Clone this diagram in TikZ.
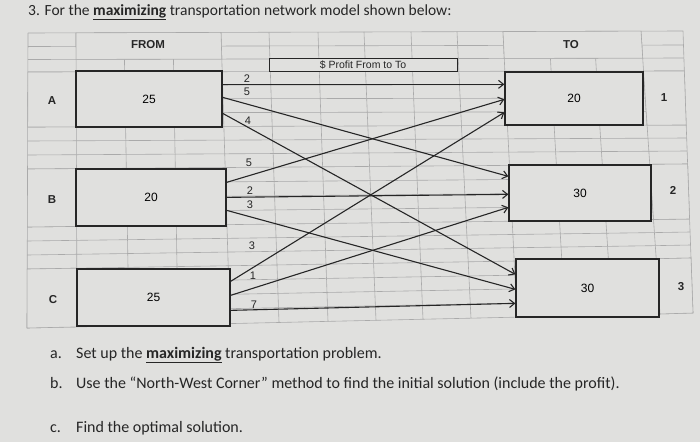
\documentclass[tikz,border=0pt]{standalone}
\usepackage{fontspec}
\setmainfont{Liberation Sans}
\newfontfamily\calibri{Carlito}
\usetikzlibrary{arrows.meta,calc}
\definecolor{bg}{RGB}{224,224,222}
\definecolor{gridc}{RGB}{170,170,170}
\definecolor{ink}{RGB}{38,38,38}
\def\colT{{28,76,124,173,221,269,318,364,411,457,503,549,594,641,683}}
\def\colB{{27,77,129,178,230,279,328,376,423,471,517,565,612,660,693}}
\def\rowL{{33,46.5,59.5,72,85.5,99,113,127,141,155,169,183.5,198,212.5,227,241,255,269,283.5,298,312.5,328}}
\def\rowR{{31,45,58,71,84.5,98,111.5,125,138,151,164,178,192,205.5,219,232,245,258,272,285.5,299.5,313}}
\newcommand\gpt[2]{%
  \pgfmathsetmacro\gx{\colT[#1]+(\colB[#1]-\colT[#1])*(\rowL[#2]-33)/295}%
  \pgfmathsetmacro\gy{\rowL[#2]+(\rowR[#2]-\rowL[#2])*(\colT[#1]-28)/655}}
\newcommand\mergecell[4]{%
  \gpt{#1}{#2}\let\qax\gx\let\qay\gy
  \gpt{#3}{#2}\let\qbx\gx\let\qby\gy
  \gpt{#3}{#4}\let\qcx\gx\let\qcy\gy
  \gpt{#1}{#4}\let\qdx\gx\let\qdy\gy
  \filldraw[gridline,fill=bg] (\qax,\qay) -- (\qbx,\qby) -- (\qcx,\qcy) -- (\qdx,\qdy) -- cycle;}
\begin{document}
\begin{tikzpicture}[x=1pt,y=-1pt,
  gridline/.style={draw=gridc,line width=0.6pt},
  box/.style={draw=ink,line width=1.3pt,fill=bg,inner sep=0pt,font=\fontsize{12}{12}\selectfont},
  hdr/.style={font=\bfseries\fontsize{11.5}{11.5}\selectfont,text=ink,inner sep=0pt},
  lbl/.style={font=\fontsize{11}{11}\selectfont,text=ink,inner sep=0pt},
  conn/.style={draw=ink,line width=1.1pt,-{Straight Barb[length=5pt,width=8pt]}},
  qtext/.style={anchor=base west,inner sep=0pt,text=ink,font=\calibri\fontsize{16}{16}\selectfont}]
\useasboundingbox (0,0) rectangle (700,442);
\fill[bg] (0,0) rectangle (700,442);
% grid
\foreach \j in {0,...,21}{
  \foreach \i [evaluate=\i as \k using int(\i+1)] in {0,...,13}{
    \gpt{\i}{\j}\let\xa\gx\let\ya\gy
    \gpt{\k}{\j}
    \draw[gridline] (\xa,\ya) -- (\gx,\gy);
  }}
\foreach \i in {0,...,14}{
  \foreach \j [evaluate=\j as \k using int(\j+1)] in {0,...,20}{
    \gpt{\i}{\j}\let\xa\gx\let\ya\gy
    \gpt{\i}{\k}
    \draw[gridline] (\xa,\ya) -- (\gx,\gy);
  }}
\mergecell{1}{0}{4}{2}
\mergecell{10}{0}{13}{2}
\mergecell{0}{3}{1}{7}
\mergecell{0}{10}{1}{14}
\mergecell{0}{17}{1}{21}
\mergecell{13}{3}{14}{7}
\mergecell{13}{10}{14}{14}
\mergecell{13}{17}{14}{21}
% headers and labels
\node[hdr] (from) at (148,45) {FROM};
\node[hdr] (to) at (571,45) {TO};
\node[hdr] (la) at (52,101) {A};
\node[hdr] (lb) at (52,200) {B};
\node[hdr] (lc) at (53,300) {C};
\node[hdr] (l1) at (664,98) {1};
\node[hdr] (l2) at (673,190) {2};
\node[hdr] (l3) at (681,287) {3};
% boxes
\node[box,minimum width=146pt,minimum height=56pt] (A) at (149,99) {25};
\node[box,minimum width=150pt,minimum height=57pt] (B) at (151,197.5) {20};
\node[box,minimum width=153pt,minimum height=57pt] (C) at (153.5,297.5) {25};
\node[box,minimum width=138pt,minimum height=53pt] (T1) at (574,98.5) {20};
\node[box,minimum width=142pt,minimum height=56pt] (T2) at (580,193) {30};
\node[box,minimum width=143pt,minimum height=58pt] (T3) at (587.5,288) {30};
\node[draw=ink,line width=0.9pt,fill=bg,minimum width=188pt,minimum height=13pt,inner sep=0pt,
  font=\fontsize{10.5}{10.5}\selectfont,text=ink] (P) at (363,64.5) {\$ Profit From to To};
% connectors
\draw[conn] ($(A.north east)+(0,14)$) -- ($(T1.north west)+(0,13)$);
\draw[conn] ($(A.north east)+(0,27)$) -- ($(T2.north west)+(0,12)$);
\draw[conn] ($(A.north east)+(0,43)$) -- ($(T3.north west)+(0,16)$);
\draw[conn] ($(B.north east)+(0,14)$) -- ($(T1.north west)+(0,28)$);
\draw[conn] ($(B.north east)+(0,29)$) -- ($(T2.north west)+(0,30)$);
\draw[conn] ($(B.north east)+(0,42)$) -- ($(T3.north west)+(0,31)$);
\draw[conn] ($(C.north east)+(0,13)$) -- ($(T1.north west)+(0,41)$);
\draw[conn] ($(C.north east)+(0,27)$) -- ($(T2.north west)+(0,43)$);
\draw[conn] ($(C.north east)+(0,42)$) -- ($(T3.north west)+(0,45)$);
% profit labels
\node[lbl] (pa1) at (247,79) {2};
\node[lbl] (pa2) at (247,92) {5};
\node[lbl] (pa3) at (248,121) {4};
\node[lbl] (pb1) at (249,163) {5};
\node[lbl] (pb2) at (250,191) {2};
\node[lbl] (pb3) at (250,205) {3};
\node[lbl] (pc1) at (252,246) {3};
\node[lbl] (pc2) at (253,276) {1};
\node[lbl] (pc3) at (254,305) {7};
% texts
\node[qtext,font=\calibri\fontsize{15.5}{15.5}\selectfont] (title) at (28,15) {3. For the \underline{\textbf{maximizing}} transportation network model shown below:};
\node[qtext] (qa) at (50,358) {a.};
\node[qtext] (qat) at (76,358) {Set up the \underline{\textbf{maximizing}} transportation problem.};
\node[qtext] (qb) at (50,388) {b.};
\node[qtext] (qbt) at (76,388) {Use the “North-West Corner” method to find the initial solution (include the profit).};
\node[qtext] (qc) at (50,432) {c.};
\node[qtext] (qct) at (76,432) {Find the optimal solution.};
\end{tikzpicture}
\end{document}
